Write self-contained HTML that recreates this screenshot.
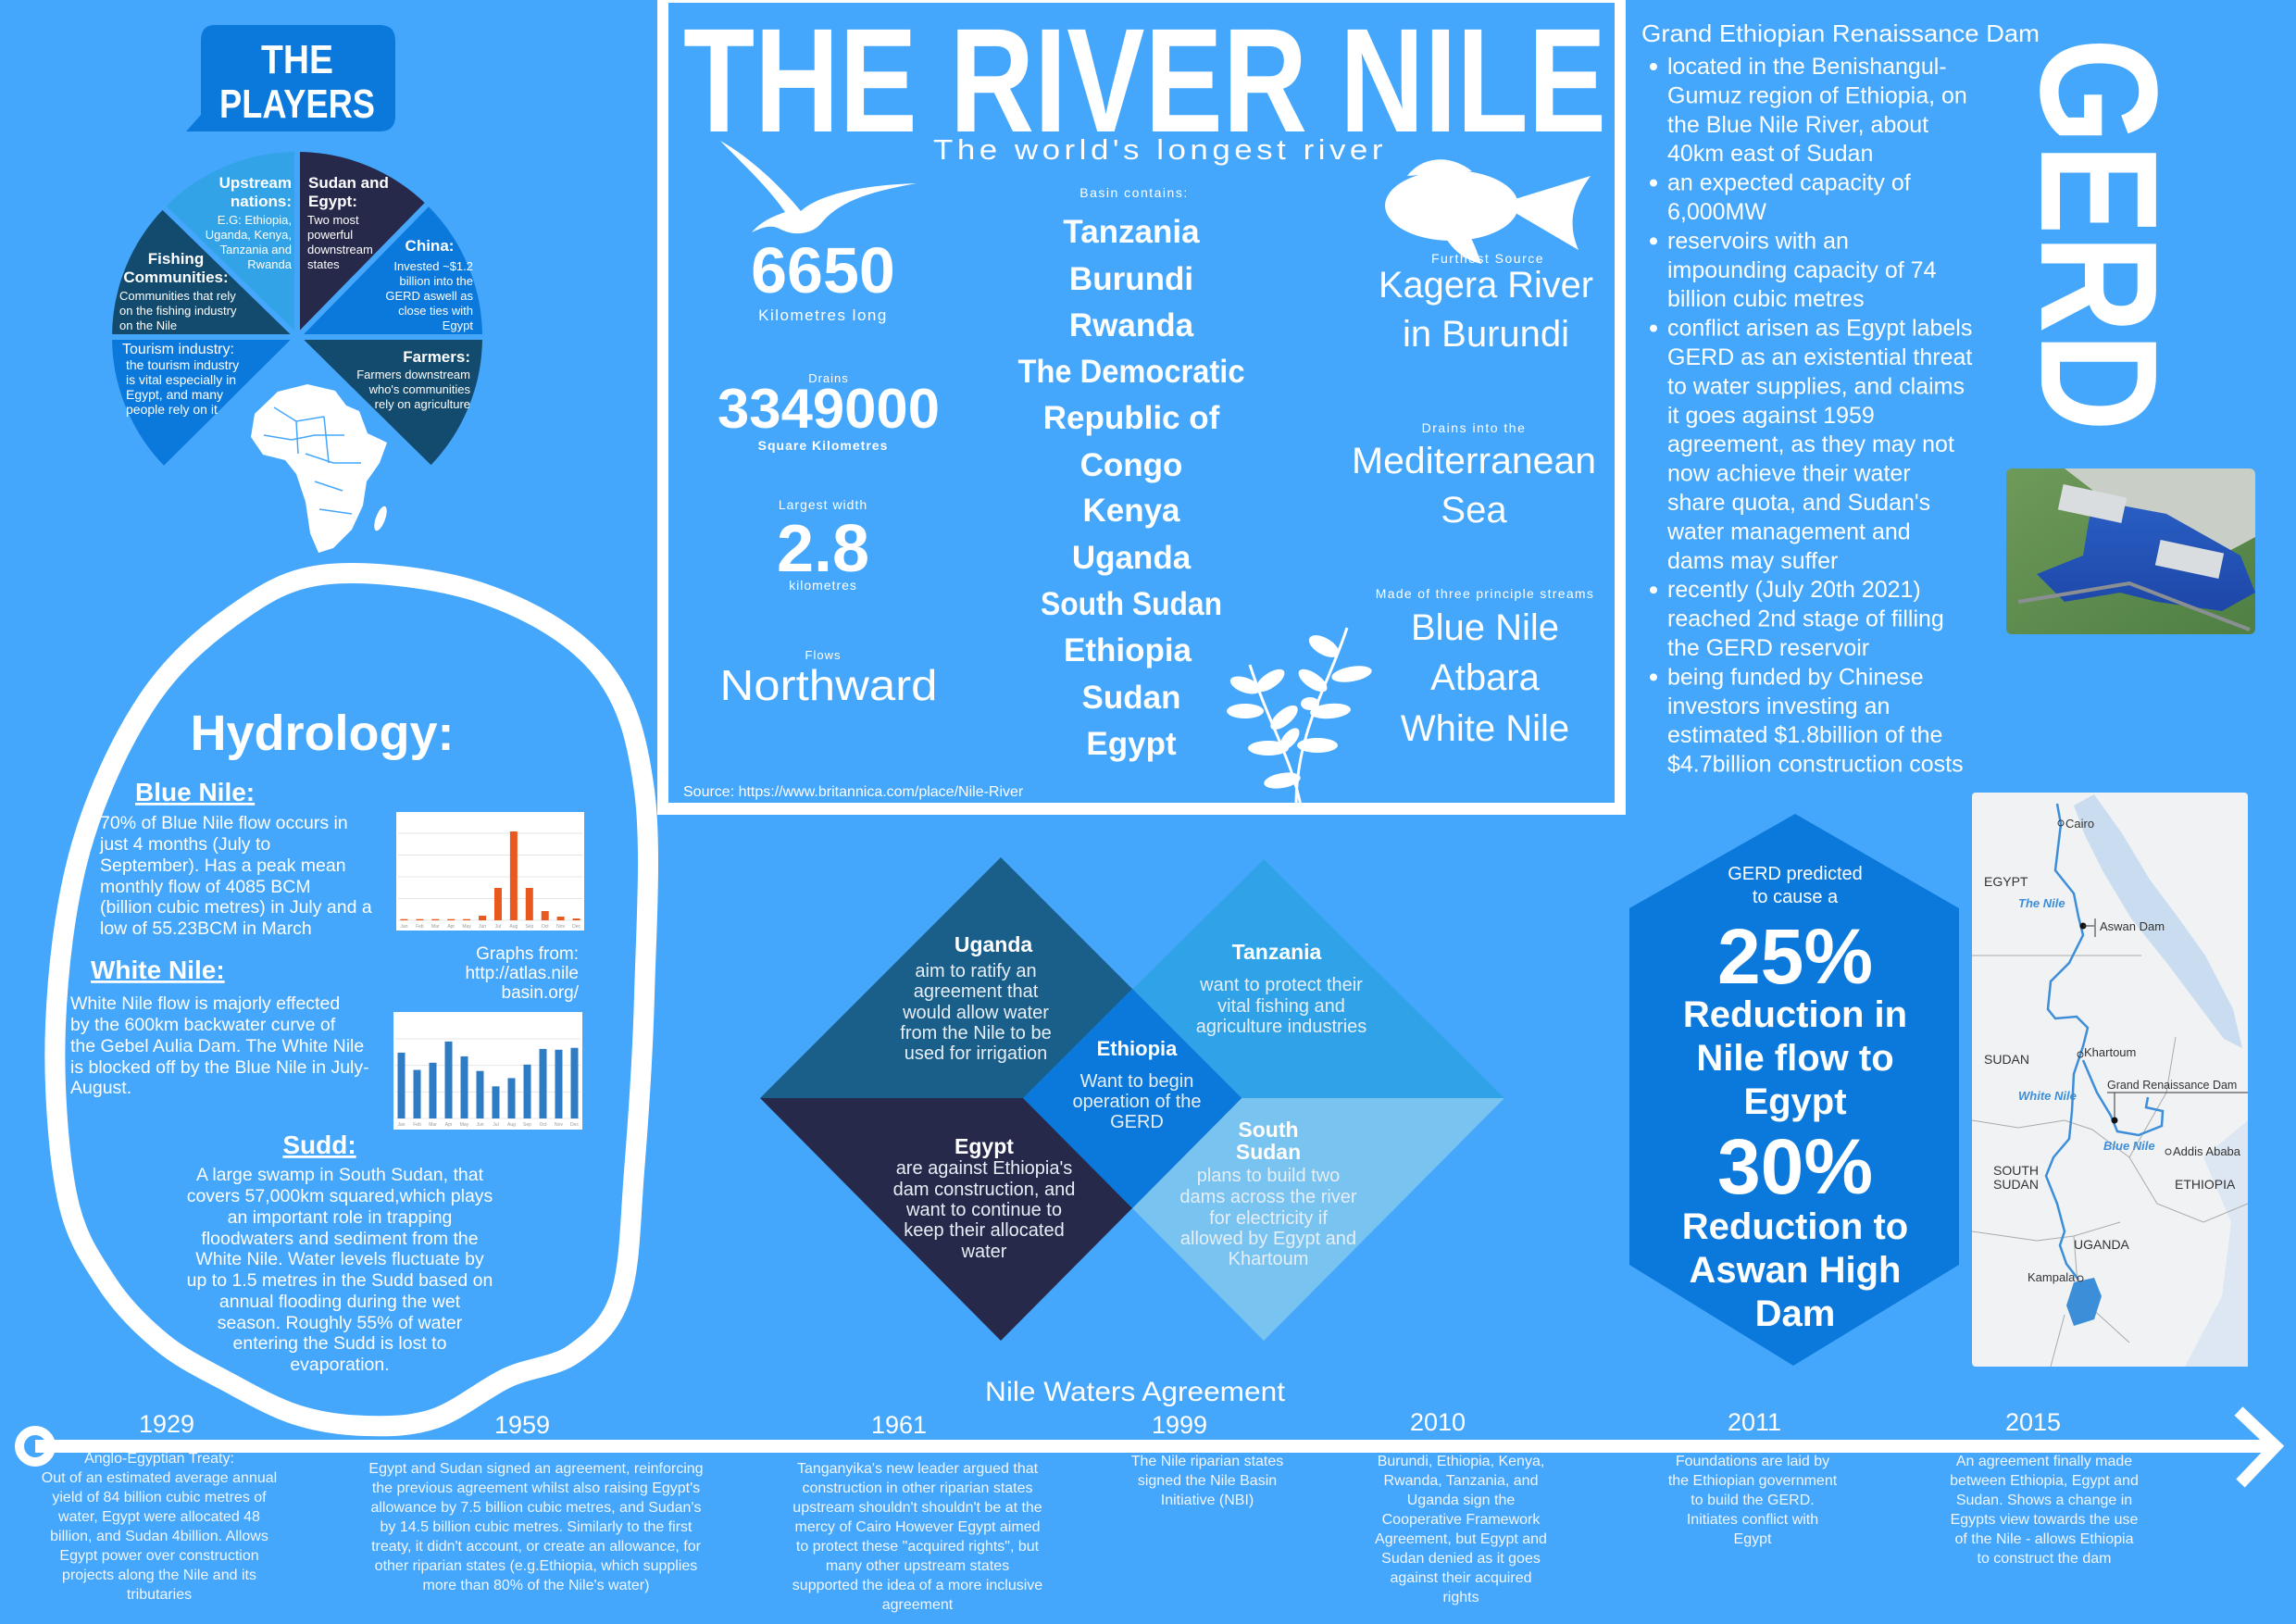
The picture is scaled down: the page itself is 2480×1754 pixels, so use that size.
<!DOCTYPE html>
<html><head><meta charset="utf-8"><title>The River Nile</title>
<style>
html,body{margin:0;padding:0;background:#44a7fc;}
svg{display:block;font-family:"Liberation Sans",sans-serif;}
</style></head>
<body>
<svg id="page" width="2480" height="1754" viewBox="0 0 2480 1754" xmlns="http://www.w3.org/2000/svg">
<rect x="0" y="0" width="2480" height="1754" fill="#44a7fc"/>

<!-- ===== THE PLAYERS ===== -->
<g>
  <path d="M232,27 H410 Q427,27 427,44 V125 Q427,142 410,142 H201 L217,124 V44 Q217,27 232,27 Z" fill="#0b79db"/>
  <text x="321" y="79" font-size="44" font-weight="bold" fill="#fff" text-anchor="middle" textLength="78" lengthAdjust="spacingAndGlyphs">THE</text>
  <text x="321" y="127" font-size="44" font-weight="bold" fill="#fff" text-anchor="middle" textLength="168" lengthAdjust="spacingAndGlyphs">PLAYERS</text>
</g>
<g id="pie"></g>
<g>
  <path d="M300,423 L332,415 L362,422 L374,438 L388,444 L397,468 L418,478 L410,500 L396,520 L392,546 L380,572 L360,592 L344,597 L335,576 L330,542 L320,512 L308,497 L284,491 L271,472 L275,447 Z" fill="#fff"/>
  <path d="M296,440 L320,455 L350,450 M285,470 L315,475 L340,470 L372,470 M330,490 L360,500 L390,500 M340,520 L370,530 M345,550 L380,555 M320,455 L322,490 M350,450 L355,500" stroke="#44a7fc" stroke-width="1.5" fill="none"/>
  <ellipse cx="411" cy="560" rx="5" ry="14" transform="rotate(20 411 560)" fill="#fff"/>
</g>

<!-- ===== HYDROLOGY ===== -->
<path id="blob" fill="none" stroke="#fff" stroke-width="22"/>
<g fill="#fff">
  <text x="348" y="810" font-size="54" font-weight="bold" text-anchor="middle">Hydrology:</text>
  <text x="146" y="865" font-size="28" font-weight="bold" text-decoration="underline">Blue Nile:</text>
  <g font-size="19.5">
    <text x="108" y="895">70% of Blue Nile flow occurs in</text>
    <text x="108" y="918">just 4 months (July to</text>
    <text x="108" y="941">September). Has a peak mean</text>
    <text x="108" y="964">monthly flow of 4085 BCM</text>
    <text x="108" y="986">(billion cubic metres) in July and a</text>
    <text x="108" y="1009">low of 55.23BCM in March</text>
  </g>
  <text x="98" y="1057" font-size="28" font-weight="bold" text-decoration="underline">White Nile:</text>
  <g font-size="19.5">
    <text x="76" y="1090">White Nile flow is majorly effected</text>
    <text x="76" y="1113">by the 600km backwater curve of</text>
    <text x="76" y="1136">the Gebel Aulia Dam. The White Nile</text>
    <text x="76" y="1159">is blocked off by the Blue Nile in July-</text>
    <text x="76" y="1181">August.</text>
  </g>
  <g font-size="19" text-anchor="end">
    <text x="625" y="1036">Graphs from:</text>
    <text x="625" y="1057">http://atlas.nile</text>
    <text x="625" y="1078">basin.org/</text>
  </g>
  <text x="345" y="1246" font-size="28" font-weight="bold" text-anchor="middle" text-decoration="underline">Sudd:</text>
  <g font-size="19.5" text-anchor="middle">
    <text x="367" y="1275">A large swamp in South Sudan, that</text>
    <text x="367" y="1298">covers 57,000km squared,which plays</text>
    <text x="367" y="1321">an important role in trapping</text>
    <text x="367" y="1344">floodwaters and sediment from the</text>
    <text x="367" y="1366">White Nile. Water levels fluctuate by</text>
    <text x="367" y="1389">up to 1.5 metres in the Sudd based on</text>
    <text x="367" y="1412">annual flooding during the wet</text>
    <text x="367" y="1435">season. Roughly 55% of water</text>
    <text x="367" y="1457">entering the Sudd is lost to</text>
    <text x="367" y="1480">evaporation.</text>
  </g>
</g>
<g id="blue-nile-chart">
  <rect x="428" y="877" width="203" height="128" fill="#fff"/>
</g>
<g id="white-nile-chart">
  <rect x="425" y="1093" width="204" height="127" fill="#fff"/>
</g>

<!-- ===== CENTER PANEL ===== -->
<g>
  <rect x="710" y="-10" width="1046" height="890" fill="#fff"/>
  <rect x="722" y="3" width="1022" height="864" fill="#44a7fc"/>
  <text x="738" y="142" font-size="160" font-weight="bold" fill="#fff" textLength="997" lengthAdjust="spacingAndGlyphs">THE RIVER NILE</text>
  <text x="1253" y="172" font-size="31" fill="#fff" text-anchor="middle" letter-spacing="4" textLength="490" lengthAdjust="spacingAndGlyphs">The world's longest river</text>
  <path d="M778,152 C810,170 842,200 865,228 C885,210 930,200 990,198 C945,206 908,216 888,240 C878,253 858,256 842,247 C832,242 822,246 812,251 C824,237 838,233 848,229 C828,200 800,175 778,152 Z" fill="#fff"/>
  <g fill="#fff">
    <ellipse cx="1568" cy="222" rx="72" ry="38"/>
    <path d="M1520,190 C1535,170 1565,165 1590,185 Z"/>
    <path d="M1620,220 L1718,190 C1700,215 1692,240 1705,270 Z"/>
    <path d="M1560,255 C1570,270 1580,280 1600,285 C1595,270 1590,258 1585,250 Z"/>
  </g>
  <g fill="#fff">
    <path d="M1350,718 C1370,780 1395,820 1405,870" stroke="#fff" stroke-width="3" fill="none"/>
    <path d="M1455,678 C1435,740 1400,790 1400,870" stroke="#fff" stroke-width="3" fill="none"/>
    <ellipse cx="1345" cy="740" rx="17" ry="8" transform="rotate(20 1345 740)"/>
    <ellipse cx="1372" cy="735" rx="18" ry="8" transform="rotate(-35 1372 735)"/>
    <ellipse cx="1345" cy="768" rx="20" ry="8"/>
    <ellipse cx="1387" cy="775" rx="18" ry="8" transform="rotate(-40 1387 775)"/>
    <ellipse cx="1370" cy="808" rx="22" ry="8"/>
    <ellipse cx="1393" cy="798" rx="14" ry="7" transform="rotate(-50 1393 798)"/>
    <ellipse cx="1385" cy="843" rx="20" ry="8" transform="rotate(-10 1385 843)"/>
    <ellipse cx="1430" cy="698" rx="18" ry="9" transform="rotate(30 1430 698)"/>
    <ellipse cx="1460" cy="728" rx="22" ry="8" transform="rotate(-10 1460 728)"/>
    <ellipse cx="1418" cy="735" rx="18" ry="8" transform="rotate(35 1418 735)"/>
    <ellipse cx="1437" cy="768" rx="22" ry="8" transform="rotate(-5 1437 768)"/>
    <ellipse cx="1423" cy="805" rx="22" ry="8"/>
    <ellipse cx="1415" cy="760" rx="10" ry="7"/>
  </g>
  <g fill="#fff" text-anchor="middle">
    <text x="889" y="316" font-size="70" font-weight="bold">6650</text>
    <text x="889" y="346" font-size="17" letter-spacing="1.5">Kilometres long</text>
    <text x="895" y="413" font-size="13" letter-spacing="1">Drains</text>
    <text x="895" y="462" font-size="60" font-weight="bold" textLength="240" lengthAdjust="spacingAndGlyphs">3349000</text>
    <text x="889" y="486" font-size="14" letter-spacing="1" font-weight="bold">Square Kilometres</text>
    <text x="889" y="550" font-size="14" letter-spacing="1">Largest width</text>
    <text x="889" y="617" font-size="72" font-weight="bold">2.8</text>
    <text x="889" y="637" font-size="14" letter-spacing="1">kilometres</text>
    <text x="889" y="712" font-size="13" letter-spacing="1">Flows</text>
    <text x="895" y="756" font-size="46" textLength="235" lengthAdjust="spacingAndGlyphs">Northward</text>
    <text x="1225" y="213" font-size="14" letter-spacing="1.5">Basin contains:</text>
    <g font-size="35" font-weight="bold">
      <text x="1222" y="262">Tanzania</text>
      <text x="1222" y="313">Burundi</text>
      <text x="1222" y="363">Rwanda</text>
      <text x="1222" y="413" textLength="245" lengthAdjust="spacingAndGlyphs">The Democratic</text>
      <text x="1222" y="463">Republic of</text>
      <text x="1222" y="514">Congo</text>
      <text x="1222" y="563">Kenya</text>
      <text x="1222" y="614">Uganda</text>
      <text x="1222" y="664" textLength="196" lengthAdjust="spacingAndGlyphs">South Sudan</text>
      <text x="1218" y="714">Ethiopia</text>
      <text x="1222" y="765">Sudan</text>
      <text x="1222" y="815">Egypt</text>
    </g>
    <text x="1607" y="284" font-size="14" letter-spacing="1.5">Furthest Source</text>
    <text x="1605" y="321" font-size="40" textLength="232" lengthAdjust="spacingAndGlyphs">Kagera River</text>
    <text x="1605" y="374" font-size="40">in Burundi</text>
    <text x="1592" y="467" font-size="14" letter-spacing="1.5">Drains into the</text>
    <text x="1592" y="511" font-size="40" textLength="264" lengthAdjust="spacingAndGlyphs">Mediterranean</text>
    <text x="1592" y="564" font-size="40">Sea</text>
    <text x="1604" y="646" font-size="14" letter-spacing="1.3">Made of three principle streams</text>
    <text x="1604" y="691" font-size="40">Blue Nile</text>
    <text x="1604" y="745" font-size="40">Atbara</text>
    <text x="1604" y="800" font-size="40">White Nile</text>
  </g>
  <text x="738" y="860" font-size="16" fill="#fff">Source: https://www.britannica.com/place/Nile-River</text>
</g>

<!-- ===== GERD TEXT ===== -->
<g fill="#fff" font-size="25">
  <text x="1773" y="45" font-size="26" textLength="430" lengthAdjust="spacingAndGlyphs">Grand Ethiopian Renaissance Dam</text>
  <g id="gerdLines"></g>
</g>
<text transform="translate(2205,41) rotate(90)" font-size="180" font-weight="bold" fill="#fff" textLength="425" lengthAdjust="spacingAndGlyphs">GERD</text>
<g>
  <defs>
    <clipPath id="photoClip"><rect x="2167" y="506" width="269" height="179" rx="6"/></clipPath>
    <linearGradient id="land" x1="0" y1="0" x2="1" y2="1"><stop offset="0" stop-color="#6e9a5a"/><stop offset="1" stop-color="#4f7f43"/></linearGradient>
    <linearGradient id="water" x1="0" y1="0" x2="0" y2="1"><stop offset="0" stop-color="#2a5fc4"/><stop offset="1" stop-color="#1d47a8"/></linearGradient>
  </defs>
  <g clip-path="url(#photoClip)">
    <rect x="2167" y="506" width="269" height="179" fill="url(#land)"/>
    <path d="M2230,506 L2436,506 L2436,580 L2380,610 L2300,560 Z" fill="#c9cfc7"/>
    <path d="M2260,540 L2340,555 L2420,600 L2436,640 L2400,660 L2330,650 L2290,640 L2230,650 L2200,620 L2250,600 Z" fill="url(#water)"/>
    <rect x="2225" y="530" width="70" height="28" fill="#d9dde0" transform="rotate(12 2260 544)"/>
    <rect x="2330" y="590" width="70" height="28" fill="#d9dde0" transform="rotate(12 2365 604)"/>
    <path d="M2180,650 L2300,630 L2430,680" stroke="#8a8f93" stroke-width="4" fill="none"/>
  </g>
</g>

<!-- ===== DIAMONDS ===== -->
<g>
  <polygon points="1365,928 1105,1186 1625,1186" fill="#30a3e8"/>
  <polygon points="1105,1186 1625,1186 1365,1448" fill="#79c3f1"/>
  <polygon points="1081,926 821,1186 1341,1186" fill="#1a5e8a"/>
  <polygon points="821,1186 1341,1186 1081,1448" fill="#27294a"/>
  <polygon points="1223,1068 1105,1186 1223,1305 1341,1186" fill="#0b79db"/>
  <g fill="#fff" text-anchor="middle">
    <text x="1073" y="1028" font-size="23" font-weight="bold">Uganda</text>
    <g font-size="20" fill="#e6eef6">
      <text x="1054" y="1055">aim to ratify an</text>
      <text x="1054" y="1077">agreement that</text>
      <text x="1054" y="1100">would allow water</text>
      <text x="1054" y="1122">from the Nile to be</text>
      <text x="1054" y="1144">used for irrigation</text>
    </g>
    <text x="1379" y="1036" font-size="23" font-weight="bold">Tanzania</text>
    <g font-size="20" fill="#e6eef6">
      <text x="1384" y="1070">want to protect their</text>
      <text x="1384" y="1093">vital fishing and</text>
      <text x="1384" y="1115">agriculture industries</text>
    </g>
    <text x="1228" y="1140" font-size="22" font-weight="bold">Ethiopia</text>
    <g font-size="20" fill="#e6eef6">
      <text x="1228" y="1174">Want to begin</text>
      <text x="1228" y="1196">operation of the</text>
      <text x="1228" y="1218">GERD</text>
    </g>
    <text x="1063" y="1246" font-size="23" font-weight="bold">Egypt</text>
    <g font-size="20" fill="#e6eef6">
      <text x="1063" y="1268">are against Ethiopia's</text>
      <text x="1063" y="1291">dam construction, and</text>
      <text x="1063" y="1313">want to continue to</text>
      <text x="1063" y="1335">keep their allocated</text>
      <text x="1063" y="1358">water</text>
    </g>
    <text x="1370" y="1228" font-size="23" font-weight="bold">South</text>
    <text x="1370" y="1252" font-size="23" font-weight="bold">Sudan</text>
    <g font-size="20" fill="#e6eef6">
      <text x="1370" y="1276">plans to build two</text>
      <text x="1370" y="1299">dams across the river</text>
      <text x="1370" y="1322">for electricity if</text>
      <text x="1370" y="1344">allowed by Egypt and</text>
      <text x="1370" y="1366">Khartoum</text>
    </g>
  </g>
</g>

<!-- ===== HEXAGON ===== -->
<g>
  <polygon points="1939,879 2116,981 2116,1366 1937,1475 1760,1366 1760,981" fill="#0b79db"/>
  <g fill="#fff" text-anchor="middle">
    <text x="1939" y="950" font-size="20">GERD predicted</text>
    <text x="1939" y="975" font-size="20">to cause a</text>
    <text x="1939" y="1062" font-size="84" font-weight="bold">25%</text>
    <text x="1939" y="1109" font-size="40" font-weight="bold">Reduction in</text>
    <text x="1939" y="1156" font-size="40" font-weight="bold">Nile flow to</text>
    <text x="1939" y="1203" font-size="40" font-weight="bold">Egypt</text>
    <text x="1939" y="1289" font-size="84" font-weight="bold">30%</text>
    <text x="1939" y="1338" font-size="40" font-weight="bold">Reduction to</text>
    <text x="1939" y="1385" font-size="40" font-weight="bold">Aswan High</text>
    <text x="1939" y="1432" font-size="40" font-weight="bold">Dam</text>
  </g>
</g>

<!-- ===== MAP ===== -->
<g>
  <rect x="2130" y="856" width="298" height="620" rx="4" fill="#f1f2f4"/>
  <path d="M2240,870 L2262,858 L2292,900 L2322,950 L2352,990 L2382,1032 L2412,1090 L2422,1132 L2402,1122 L2372,1082 L2342,1042 L2302,992 L2272,942 L2252,902 Z" fill="#c9dcf0"/>
  <path d="M2380,1250 L2428,1210 L2428,1476 L2360,1476 L2400,1400 L2410,1320 Z" fill="#dde7f3"/>
  <g stroke="#aaa" stroke-width="1" fill="none">
    <path d="M2130,1032 H2313"/>
    <path d="M2130,1210 L2180,1218 L2230,1210 L2260,1220 L2300,1250 L2330,1300 L2380,1320 L2428,1300"/>
    <path d="M2130,1330 L2200,1340 L2240,1335 L2290,1320 M2240,1335 L2245,1400 L2300,1450 M2230,1420 L2215,1476"/>
    <path d="M2300,1250 L2340,1180 L2350,1120"/>
  </g>
  <path d="M2222,868 L2226,890 L2220,940 L2240,965 L2245,990 L2250,1010 L2235,1040 L2215,1060 L2212,1090 L2220,1100 L2243,1098 L2255,1110 L2250,1130 L2247,1139 L2240,1160 L2238,1200 L2235,1230 L2218,1250 L2210,1270 L2222,1300 L2230,1330 L2225,1345 L2232,1365 L2245,1382" stroke="#3d8ed8" stroke-width="2.5" fill="none"/>
  <path d="M2250,1145 L2265,1180 L2280,1205 L2287,1222 L2310,1226 L2335,1216 L2336,1200 L2318,1196 L2320,1185" stroke="#3d8ed8" stroke-width="2.5" fill="none"/>
  <path d="M2240,1385 L2262,1380 L2270,1400 L2262,1425 L2240,1432 L2232,1410 Z" fill="#3d8ed8"/>
  <g font-size="13" fill="#333">
    <circle cx="2226" cy="889" r="3" fill="none" stroke="#333"/><text x="2231" y="894">Cairo</text>
    <text x="2143" y="957" font-size="14">EGYPT</text>
    <text x="2180" y="980" font-style="italic" font-weight="bold" fill="#3d8ed8">The Nile</text>
    <circle cx="2250" cy="1000" r="3.5" fill="#111"/><path d="M2250,1000 H2262 M2263,992 V1012" stroke="#333"/><text x="2268" y="1005">Aswan Dam</text>
    <circle cx="2247" cy="1139" r="3" fill="none" stroke="#333"/><text x="2251" y="1141">Khartoum</text>
    <text x="2143" y="1149" font-size="14">SUDAN</text>
    <text x="2276" y="1176" font-size="12.5">Grand Renaissance Dam</text>
    <path d="M2276,1180 H2428 M2284,1180 V1210" stroke="#333"/><circle cx="2284" cy="1210" r="3.5" fill="#111"/>
    <text x="2180" y="1188" font-style="italic" font-weight="bold" fill="#3d8ed8">White Nile</text>
    <text x="2272" y="1242" font-style="italic" font-weight="bold" fill="#3d8ed8">Blue Nile</text>
    <circle cx="2342" cy="1244" r="3" fill="none" stroke="#333"/><text x="2347" y="1248">Addis Ababa</text>
    <text x="2153" y="1269" font-size="14">SOUTH</text><text x="2153" y="1284" font-size="14">SUDAN</text>
    <text x="2349" y="1284" font-size="14">ETHIOPIA</text>
    <text x="2240" y="1349" font-size="14">UGANDA</text>
    <text x="2190" y="1384">Kampala</text><circle cx="2247" cy="1381" r="3" fill="none" stroke="#333"/>
  </g>
</g>

<!-- ===== TIMELINE ===== -->
<g>
  <rect x="38" y="1555" width="2420" height="14" fill="#fff"/>
  <circle cx="38" cy="1562" r="17" fill="none" stroke="#fff" stroke-width="10"/>
  <path d="M2418,1524 L2458,1562 L2420,1602" stroke="#fff" stroke-width="13" fill="none"/>
  <text x="1226" y="1513" font-size="30" fill="#fff" text-anchor="middle" textLength="324" lengthAdjust="spacingAndGlyphs">Nile Waters Agreement</text>
  <g font-size="27" fill="#fff" text-anchor="middle">
    <text x="180" y="1547">1929</text><text x="564" y="1548">1959</text><text x="971" y="1548">1961</text>
    <text x="1274" y="1548">1999</text><text x="1553" y="1545">2010</text><text x="1895" y="1545">2011</text><text x="2196" y="1545">2015</text>
  </g>
  <g id="tlText" font-size="16" fill="#f0f6ff" text-anchor="middle"></g>
</g>

<script>
// ---- Chart data ----
var months = ['Jan','Feb','Mar','Apr','May','Jun','Jul','Aug','Sep','Oct','Nov','Dec'];
var blueNileFlow = [55, 55, 55, 55, 55, 210, 1490, 4085, 1490, 425, 170, 85];
var blueNileTicks = [0, 1000, 2000, 3000, 4000];
var whiteNileFlow = [24.8, 18.3, 21.0, 29.0, 23.4, 17.9, 12.1, 15.2, 20.3, 26.2, 25.9, 26.6];
var whiteNileTicks = [0, 10, 20, 30];
var pieLabels = ['Sudan and Egypt','China','Farmers','Tourism industry','Fishing Communities','Upstream nations'];
var pieAngles = [[45.6, 90], [0, 45.6], [-44.6, 0], [180, 224.8], [135.8, 180], [90, 135.8]];

var NS = 'http://www.w3.org/2000/svg';
function mk(tag, attrs, parent) {
  var e = document.createElementNS(NS, tag);
  for (var k in attrs) e.setAttribute(k, attrs[k]);
  if (parent) parent.appendChild(e);
  return e;
}

function barChart(gId, values, ticks, x0, x1, yBase, yTop, color, barW) {
  var g = document.getElementById(gId);
  var maxT = ticks[ticks.length - 1];
  function yScale(v) { return yBase - (v / maxT) * (yBase - yTop); }
  var band = (x1 - x0) / values.length;
  function xScale(i) { return x0 + (i + 0.5) * band; }
  ticks.forEach(function (t) {
    var ln = mk('line', {x1: x0 + 2, x2: x1 - 2, y1: yScale(t), y2: yScale(t), stroke: '#e4e4e4', 'stroke-width': 1}, g);
    
    
  });
  values.forEach(function (v, i) {
    var r = mk('rect', {x: xScale(i) - barW / 2, y: yScale(v), width: barW, height: yBase - yScale(v), fill: color}, g);
    
    
    var t = mk('text', {x: xScale(i), y: yBase + 8, 'font-size': 5, fill: '#999', 'text-anchor': 'middle'}, g);
    
    
    t.textContent = months[i];
  });
}
barChart('blue-nile-chart', blueNileFlow, blueNileTicks, 428, 631, 994, 900, '#e8591f', 8);
barChart('white-nile-chart', whiteNileFlow, whiteNileTicks, 425, 629, 1208, 1122, '#2f7bc4', 8);

// ---- Pie ----
(function () {
  var g = document.getElementById('pie');
  var cx = 321, cy = 364, R = 203;
  var colors = ['#27294a', '#0b79db', '#124b6e', '#0b79db', '#124b6e', '#31a3e6'];
  pieAngles.forEach(function (a, i) {
    var a0 = a[0] * Math.PI / 180, a1 = a[1] * Math.PI / 180;
    var p0x = cx + R * Math.cos(a0), p0y = cy - R * Math.sin(a0);
    var p1x = cx + R * Math.cos(a1), p1y = cy - R * Math.sin(a1);
    var p = mk('path', {d: 'M' + cx + ',' + cy + ' L' + p0x + ',' + p0y + ' A' + R + ',' + R + ' 0 0 0 ' + p1x + ',' + p1y + ' Z', fill: colors[i], stroke: '#44a7fc', 'stroke-width': 6, 'stroke-linejoin': 'round'}, g);
    
    
  });
  var T = [
    ['Upstream', 315, 203, 17, 'bold', 'end'], ['nations:', 315, 223, 17, 'bold', 'end'],
    ['E.G: Ethiopia,', 315, 242, 13, 'normal', 'end'], ['Uganda, Kenya,', 315, 258, 13, 'normal', 'end'],
    ['Tanzania and', 315, 274, 13, 'normal', 'end'], ['Rwanda', 315, 290, 13, 'normal', 'end'],
    ['Sudan and', 333, 203, 17, 'bold', 'start'], ['Egypt:', 333, 223, 17, 'bold', 'start'],
    ['Two most', 332, 242, 13, 'normal', 'start'], ['powerful', 332, 258, 13, 'normal', 'start'],
    ['downstream', 332, 274, 13, 'normal', 'start'], ['states', 332, 290, 13, 'normal', 'start'],
    ['China:', 464, 271, 17, 'bold', 'middle'], ['Invested ~$1.2', 511, 292, 13, 'normal', 'end'],
    ['billion into the', 511, 308, 13, 'normal', 'end'], ['GERD aswell as', 511, 324, 13, 'normal', 'end'],
    ['close ties with', 511, 340, 13, 'normal', 'end'], ['Egypt', 511, 356, 13, 'normal', 'end'],
    ['Fishing', 190, 285, 17, 'bold', 'middle'], ['Communities:', 190, 305, 17, 'bold', 'middle'],
    ['Communities that rely', 129, 324, 13, 'normal', 'start'], ['on the fishing industry', 129, 340, 13, 'normal', 'start'],
    ['on the Nile', 129, 356, 13, 'normal', 'start'],
    ['Tourism industry:', 132, 382, 16, 'normal', 'start'], ['the tourism industry', 136, 399, 14, 'normal', 'start'],
    ['is vital especially in', 136, 415, 14, 'normal', 'start'], ['Egypt, and many', 136, 431, 14, 'normal', 'start'],
    ['people rely on it', 136, 447, 14, 'normal', 'start'],
    ['Farmers:', 508, 391, 17, 'bold', 'end'], ['Farmers downstream', 508, 409, 13, 'normal', 'end'],
    ["who's communities", 508, 425, 13, 'normal', 'end'], ['rely on agriculture', 508, 441, 13, 'normal', 'end']
  ];
  T.forEach(function (t) {
    var e = mk('text', {x: t[1], y: t[2], 'font-size': t[3], 'font-weight': t[4], 'text-anchor': t[5], fill: '#fff'}, g);
    
    
    e.textContent = t[0];
  });
})();

// ---- Hydrology blob outline (shape only) ----
(function () {
  var P = [[356,620],[522,641],[648,720],[696,854],[696,1075],[685,1265],[670,1400],[620,1462],[548,1488],[470,1532],[395,1540],[320,1528],[245,1492],[175,1450],[115,1385],[72,1290],[60,1107],[87,917],[158,759],[253,664]];
  var n = P.length, d = 'M' + P[0][0] + ',' + P[0][1];
  for (var i = 0; i < n; i++) {
    var p0 = P[(i - 1 + n) % n], p1 = P[i], p2 = P[(i + 1) % n], p3 = P[(i + 2) % n];
    var c1x = p1[0] + (p2[0] - p0[0]) / 6, c1y = p1[1] + (p2[1] - p0[1]) / 6;
    var c2x = p2[0] - (p3[0] - p1[0]) / 6, c2y = p2[1] - (p3[1] - p1[1]) / 6;
    d += ' C' + c1x + ',' + c1y + ' ' + c2x + ',' + c2y + ' ' + p2[0] + ',' + p2[1];
  }
  document.getElementById('blob').setAttribute('d', d + ' Z');
})();

// ---- GERD bullet lines ----
(function () {
  var g = document.getElementById('gerdLines');
  var L = [
    ['located in the Benishangul-', 1], ['Gumuz region of Ethiopia, on', 0], ['the Blue Nile River, about', 0], ['40km east of Sudan', 0],
    ['an expected capacity of', 1], ['6,000MW', 0],
    ['reservoirs with an', 1], ['impounding capacity of 74', 0], ['billion cubic metres', 0],
    ['conflict arisen as Egypt labels', 1], ['GERD as an existential threat', 0], ['to water supplies, and claims', 0],
    ['it goes against 1959', 0], ['agreement, as they may not', 0], ['now achieve their water', 0], ["share quota, and Sudan's", 0],
    ['water management and', 0], ['dams may suffer', 0],
    ['recently (July 20th 2021)', 1], ['reached 2nd stage of filling', 0], ['the GERD reservoir', 0],
    ['being funded by Chinese', 1], ['investors investing an', 0], ['estimated $1.8billion of the', 0], ['$4.7billion construction costs', 0]
  ];
  L.forEach(function (l, i) {
    var y = 80 + i * 31.4;
    if (l[1]) {
      var b = mk('circle', {cx: 1786, cy: y - 8, r: 4, fill: '#fff'}, g);
      
      
    }
    var t = mk('text', {x: 1801, y: y}, g);
    
    
    t.textContent = l[0];
  });
})();

// ---- Timeline descriptions ----
(function () {
  var g = document.getElementById('tlText');
  var E = [
    [172, 1580, ['Anglo-Egyptian Treaty:', 'Out of an estimated average annual', 'yield of 84 billion cubic metres of', 'water, Egypt were allocated 48', 'billion, and Sudan 4billion. Allows', 'Egypt power over construction', 'projects along the Nile and its', 'tributaries']],
    [579, 1591, ['Egypt and Sudan signed an agreement, reinforcing', "the previous agreement whilst also raising Egypt's", "allowance by 7.5 billion cubic metres, and Sudan's", 'by 14.5 billion cubic metres. Similarly to the first', "treaty, it didn't account, or create an allowance, for", 'other riparian states (e.g.Ethiopia, which supplies', "more than 80% of the Nile's water)"]],
    [991, 1591, ["Tanganyika's new leader argued that", 'construction in other riparian states', "upstream shouldn't shouldn't be at the", 'mercy of Cairo  However Egypt aimed', 'to protect these "acquired rights", but', 'many other upstream states', 'supported the idea of a more inclusive', 'agreement']],
    [1304, 1583, ['The Nile riparian states', 'signed the Nile Basin', 'Initiative (NBI)']],
    [1578, 1583, ['Burundi, Ethiopia, Kenya,', 'Rwanda, Tanzania, and', 'Uganda sign the', 'Cooperative Framework', 'Agreement, but Egypt and', 'Sudan denied as it goes', 'against their acquired', 'rights']],
    [1893, 1583, ['Foundations are laid by', 'the Ethiopian government', 'to build the GERD.', 'Initiates conflict with', 'Egypt']],
    [2208, 1583, ['An agreement finally made', 'between Ethiopia, Egypt and', 'Sudan. Shows a change in', 'Egypts view towards the use', 'of the Nile - allows Ethiopia', 'to construct the dam']]
  ];
  E.forEach(function (ev) {
    ev[2].forEach(function (line, j) {
      var t = mk('text', {x: ev[0], y: ev[1] + j * 21}, g);
      
      
      t.textContent = line;
    });
  });
})();
</script>
</svg>
</body></html>
